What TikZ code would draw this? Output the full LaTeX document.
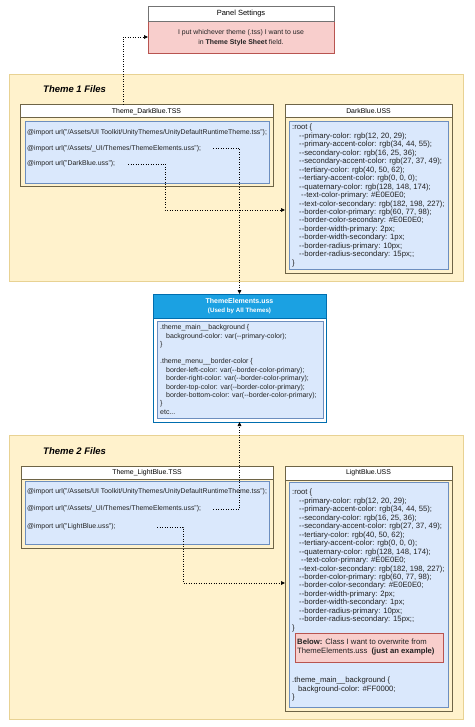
\documentclass[tikz,border=0pt]{standalone}
\usepackage{fontspec}
\setmainfont{Liberation Sans}
\usetikzlibrary{arrows.meta}
\definecolor{yfill}{HTML}{FFF2CC}
\definecolor{ydraw}{HTML}{E8D293}
\definecolor{bfill}{HTML}{DAE8FC}
\definecolor{bdraw}{HTML}{6C8EBF}
\definecolor{rfill}{HTML}{F8CECC}
\definecolor{rdraw}{HTML}{B85450}
\definecolor{fdraw}{HTML}{6E6446}
\definecolor{hblue}{HTML}{1BA1E2}
\definecolor{hbluedraw}{HTML}{006EAF}
\definecolor{txt}{HTML}{222222}

\newcommand\dd{-{}-}
\newcommand\ind{\hspace*{7pt}}
\newcommand\rootvars{%
:root \{\\
\ind\dd primary-color: rgb(12, 20, 29);\\
\ind\dd primary-accent-color: rgb(34, 44, 55);\\
\ind\dd secondary-color: rgb(16, 25, 36);\\
\ind\dd secondary-accent-color: rgb(27, 37, 49);\\
\ind\dd tertiary-color: rgb(40, 50, 62);\\
\ind\dd tertiary-accent-color: rgb(0, 0, 0);\\
\ind\dd quaternary-color: rgb(128, 148, 174);\\
\ind\hspace*{2pt}\dd text-color-primary: \#E0E0E0;\\
\ind\dd text-color-secondary: rgb(182, 198, 227);\\
\ind\dd border-color-primary: rgb(60, 77, 98);\\
\ind\dd border-color-secondary: \#E0E0E0;\\
\ind\dd border-width-primary: 2px;\\
\ind\dd border-width-secondary: 1px;\\
\ind\dd border-radius-primary: 10px;\\
\ind\dd border-radius-secondary: 15px;;\\
\}}

\tikzset{
  x=1pt, y=-1pt,
  rect/.style={anchor=north west, inner sep=0pt, outer sep=0pt},
  container/.style={rect, draw=ydraw, fill=yfill, line width=0.6pt},
  filebox/.style={rect, draw=fdraw, line width=1pt},
  filehdr/.style={rect, draw=fdraw, fill=white, line width=1pt, text=black,
    font=\fontsize{6.9}{8}\selectfont},
  innerbox/.style={rect, draw=bdraw, fill=bfill, line width=0.5pt},
  code/.style={anchor=north west, inner sep=0pt, align=left, text=txt,
    font=\fontsize{7.0}{8.45}\selectfont},
  usscode/.style={code, font=\fontsize{7.7}{8.45}\selectfont},
  codeline/.style={anchor=west, inner sep=0pt, text=txt,
    font=\fontsize{6.9}{8.45}\selectfont},
  grouplbl/.style={anchor=west, inner sep=0pt,
    font=\fontsize{9.5}{11}\selectfont\bfseries\itshape},
  conn/.style={draw=black, line width=0.7pt, dash pattern=on 1pt off 1.5pt,
    -{Triangle[length=4pt,width=3.6pt]}},
}

\begin{document}
\begin{tikzpicture}
\useasboundingbox (0,0) rectangle (474,727);
\fill[white] (0,0) rectangle (474,727);

% Panel Settings
\node[rect, draw=rdraw, fill=rfill, line width=0.8pt, minimum width=186pt, minimum height=32pt] (panelb) at (148,21) {};
\node[rect, draw=black!55, fill=white, line width=0.8pt, minimum width=186pt, minimum height=15pt,
  font=\fontsize{7.5}{9}\selectfont] (panelh) at (148,6) {Panel Settings};
\node[align=center, inner sep=0pt, text=txt, font=\fontsize{6.9}{9.5}\selectfont] (paneltxt) at (241,37.5)
  {I put whichever theme (.tss) I want to use\\in \textbf{Theme Style Sheet} field.};

% Theme 1 container
\node[container, minimum width=454pt, minimum height=207pt] (th1) at (9,74) {};
\node[grouplbl] (th1lbl) at (43,89) {Theme 1 Files};

% Theme_DarkBlue.TSS
\node[filebox, minimum width=253pt, minimum height=82pt] (tss1) at (20,105) {};
\node[filehdr, minimum width=253pt, minimum height=13pt] (tss1h) at (20,105) {Theme\_DarkBlue.TSS};
\node[innerbox, minimum width=244pt, minimum height=62pt] (tss1i) at (25,121) {};
\node[codeline] (t1a) at (27,133) {@import url("/Assets/UI Toolkit/UnityThemes/UnityDefaultRuntimeTheme.tss");};
\node[codeline] (t1b) at (27,148.5) {@import url("/Assets/\_UI/Themes/ThemeElements.uss");};
\node[codeline] (t1c) at (27,164) {@import url("DarkBlue.uss");};

% DarkBlue.USS
\node[filebox, minimum width=167pt, minimum height=168pt] (dbu) at (285,105) {};
\node[filehdr, minimum width=167pt, minimum height=13pt] (dbuh) at (285,105) {DarkBlue.USS};
\node[innerbox, minimum width=159pt, minimum height=148pt] (dbui) at (289,121) {};
\node[usscode] (dbucode) at (292,124.2) {\rootvars};

% ThemeElements.uss
\node[rect, draw=hbluedraw, fill=white, line width=0.8pt, minimum width=173pt, minimum height=128pt] (te) at (153,294) {};
\node[rect, draw=hbluedraw, fill=hblue, line width=0.8pt, minimum width=173pt, minimum height=24pt,
  text=white, align=center, font=\fontsize{7}{9}\selectfont\bfseries] (teh) at (153,294)
  {ThemeElements.uss\\{\fontsize{6.2}{8}\selectfont(Used by All Themes)}};
\node[innerbox, minimum width=166pt, minimum height=97pt] (tei) at (157,321) {};
\node[code] (tecode) at (160,324.6) {%
.theme\_main\_\_background \{\\
\hspace*{6pt}background-color: var(\dd primary-color);\\
\}\\
\mbox{}\\
.theme\_menu\_\_border-color \{\\
\hspace*{6pt}border-left-color: var(\dd border-color-primary);\\
\hspace*{6pt}border-right-color: var(\dd border-color-primary);\\
\hspace*{6pt}border-top-color: var(\dd border-color-primary);\\
\hspace*{6pt}border-bottom-color: var(\dd border-color-primary);\\
\}\\
etc...};

% Theme 2 container
\node[container, minimum width=454pt, minimum height=284pt] (th2) at (9,435) {};
\node[grouplbl] (th2lbl) at (43,451) {Theme 2 Files};

% Theme_LightBlue.TSS
\node[filebox, minimum width=252pt, minimum height=82pt] (tss2) at (21,466) {};
\node[filehdr, minimum width=252pt, minimum height=13pt] (tss2h) at (21,466) {Theme\_LightBlue.TSS};
\node[innerbox, minimum width=244pt, minimum height=63pt] (tss2i) at (25,481) {};
\node[codeline] (t2a) at (27,492) {@import url("/Assets/UI Toolkit/UnityThemes/UnityDefaultRuntimeTheme.tss");};
\node[codeline] (t2b) at (27,509) {@import url("/Assets/\_UI/Themes/ThemeElements.uss");};
\node[codeline] (t2c) at (27,527) {@import url("LightBlue.uss");};

% LightBlue.USS
\node[filebox, minimum width=167pt, minimum height=245pt] (lbu) at (285,466) {};
\node[filehdr, minimum width=167pt, minimum height=14pt] (lbuh) at (285,466) {LightBlue.USS};
\node[innerbox, minimum width=159pt, minimum height=225pt] (lbui) at (289,482) {};
\node[usscode] (lbucode) at (292,489.2) {\rootvars};
\node[rect, draw=rdraw, fill=rfill, line width=0.6pt, minimum width=148pt, minimum height=29pt] (rbox) at (295,633) {};
\node[code, font=\fontsize{7.7}{9}\selectfont] (rtxt) at (297,639.2)
  {\textbf{Below:} Class I want to overwrite from\\ThemeElements.uss \ \textbf{(just an example)}};
\node[usscode] (lbucode2) at (292,677.2) {%
.theme\_main\_\_background \{\\
\hspace*{6pt}background-color: \#FF0000;\\
\}};

% connectors
\coordinate (c0) at (123,105);
\coordinate (c1) at (128,164);
\coordinate (c2) at (213,148.5);
\coordinate (c3) at (213,509);
\coordinate (c4) at (157,527);
\draw[conn] (c0) |- (panelb.west);
\draw[conn] (c1) -| (165,210) -- (dbu.west |- 165,210);
\draw[conn] (c2) -| (te.north);
\draw[conn] (c3) -| (te.south);
\draw[conn] (c4) -| (183,583) -- (lbu.west |- 183,583);
\end{tikzpicture}
\end{document}
